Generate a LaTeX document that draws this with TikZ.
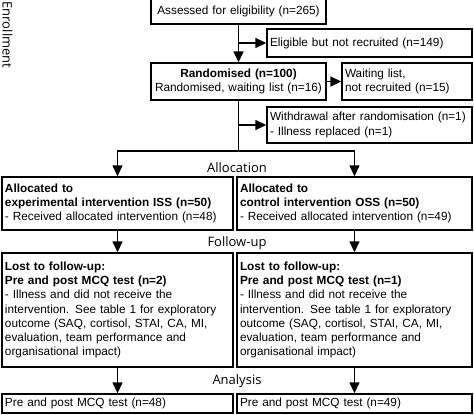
\documentclass[tikz,border=0pt]{standalone}
\usepackage{fontspec}
\setmainfont{Liberation Sans}
\newfontfamily\secfont{Open Sans}
\usetikzlibrary{arrows.meta}

\tikzset{
  box/.style={draw, line width=1.4pt, inner xsep=3pt, inner ysep=1pt,
    font=\fontsize{11.8}{14.2}\selectfont, align=left},
  arr/.style={line width=1.4pt, -{Triangle[length=11pt,width=10pt]}},
  section/.style={font=\secfont\fontsize{13}{15}\selectfont}
}

\begin{document}
\begin{tikzpicture}[x=1pt,y=1pt]
\useasboundingbox (0,0) rectangle (474,-415);
%
\node[box, align=center, text width=169pt, minimum height=26pt] (Assess) at (238.5,-11) {%
  Assessed for eligibility (n=265)};
%
\node[box, text width=199pt, minimum height=28pt] (Elig) at (369.5,-43) {%
  Eligible but not recruited (n=149)};
%
\node[box, align=center, text width=169pt, minimum height=37pt] (Rand) at (238.5,-81.5) {%
  \textbf{Randomised (n=100)}\\
  Randomised, waiting list (n=16)};
%
\node[box, text width=124pt, minimum height=37pt] (Wait) at (407,-81.5) {%
  Waiting list,\\
  not recruited (n=15)};
%
\node[box, text width=199pt, minimum height=36pt] (Withd) at (369.5,-125) {%
  Withdrawal after randomisation (n=1)\\
  - Illness replaced (n=1)};
%
\coordinate (Split) at (238.5,-151);
%
\node[box, text width=225pt, minimum height=53pt] (AllocISS) at (117.5,-203.5) {%
  \textbf{Allocated to}\\
  \textbf{experimental intervention ISS (n=50)}\\
  - Received allocated intervention (n=48)};
%
\node[box, text width=229pt, minimum height=53pt] (AllocOSS) at (354.5,-203.5) {%
  \textbf{Allocated to}\\
  \textbf{control intervention OSS (n=50)}\\
  - Received allocated intervention (n=49)};
%
\node[box, text width=225pt, minimum height=114pt] (LostISS) at (117.5,-310) {%
  \textbf{Lost to follow-up:}\\
  \textbf{Pre and post MCQ test (n=2)}\\
  - Illness and did not receive the\\
  intervention. See table 1 for exploratory\\
  outcome (SAQ, cortisol, STAI, CA, MI,\\
  evaluation, team performance and\\
  organisational impact)};
%
\node[box, text width=229pt, minimum height=114pt] (LostOSS) at (354.5,-310) {%
  \textbf{Lost to follow-up:}\\
  \textbf{Pre and post MCQ test (n=1)}\\
  - Illness and did not receive the\\
  intervention. See table 1 for exploratory\\
  outcome (SAQ, cortisol, STAI, CA, MI,\\
  evaluation, team performance and\\
  organisational impact)};
%
\node[box, text width=225pt, minimum height=19pt] (MCQISS) at (117.5,-403.5) {%
  Pre and post MCQ test (n=48)};
%
\node[box, text width=229pt, minimum height=19pt] (MCQOSS) at (354.5,-403.5) {%
  Pre and post MCQ test (n=49)};
%
\node[section, rotate=-90] (Enrol) at (7.5,-35) {Enrollment};
\node[section] (Alloc) at (237,-168) {Allocation};
\node[section] (Follow) at (237,-243) {Follow-up};
\node[section] (Analys) at (237,-381) {Analysis};
%
\draw[arr] (Assess)--(Rand);
\draw[arr] (Assess.south |- Elig.west)--(Elig);
\draw[arr] (Rand)--(Wait);
\draw[line width=1.4pt] (Rand)--(Split);
\draw[arr] (Rand.south |- Withd.west)--(Withd);
\draw[arr] (Split) -| (AllocISS);
\draw[arr] (Split) -| (AllocOSS);
\draw[arr] (AllocISS)--(LostISS);
\draw[arr] (AllocOSS)--(LostOSS);
\draw[arr] (LostISS)--(MCQISS);
\draw[arr] (LostOSS)--(MCQOSS);
\end{tikzpicture}
\end{document}
